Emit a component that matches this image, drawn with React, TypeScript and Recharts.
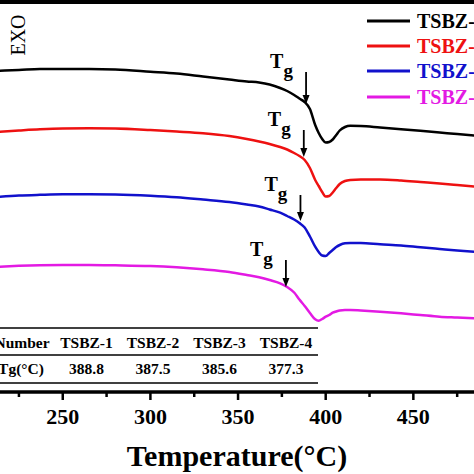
import React from 'react';
import { LineChart, Line, XAxis, YAxis, Legend, ReferenceLine, Label } from 'recharts';

const FONT = '"Liberation Serif", "Times New Roman", serif';

const SAMPLES = ['TSBZ-1', 'TSBZ-2', 'TSBZ-3', 'TSBZ-4'];
const COLORS = ['#000000', '#ee1111', '#1111cc', '#e31ae3'];
const TG_VALUES = [388.8, 387.5, 385.6, 377.3];

// temperature (°C)
const TEMPS = [214, 225, 237, 250, 265, 280, 300, 315, 330, 345, 355, 362, 368, 374, 378, 382, 385, 388, 391, 394, 396, 398, 400, 402, 404, 406, 408, 411, 414, 420, 431, 443, 454, 465, 475, 485];

// heat flow, stacked (a.u.)
const TSBZ1 = [32.13, 32.2, 32.3, 32.3, 32.3, 32.25, 32.03, 31.85, 31.55, 31.25, 31.05, 30.95, 30.75, 30.4, 30.1, 29.7, 29.35, 29.0, 28.3, 26.7, 25.9, 25.3, 24.95, 25.0, 25.25, 25.7, 26.15, 26.5, 26.62, 26.6, 26.45, 26.28, 26.12, 25.95, 25.8, 25.65];
const TSBZ2 = [26.03, 26.15, 26.27, 26.35, 26.37, 26.35, 26.2, 26.05, 25.88, 25.6, 25.3, 25.05, 24.8, 24.5, 24.25, 23.9, 23.6, 23.2, 22.4, 21.2, 20.6, 20.0, 19.55, 19.6, 19.95, 20.4, 20.8, 21.1, 21.2, 21.25, 21.25, 21.15, 21.0, 20.85, 20.7, 20.55];
const TSBZ3 = [19.53, 19.65, 19.72, 19.77, 19.77, 19.75, 19.63, 19.48, 19.25, 19.0, 18.75, 18.55, 18.25, 17.93, 17.6, 17.25, 16.9, 16.45, 15.55, 14.53, 14.0, 13.65, 13.6, 13.9, 14.2, 14.5, 14.7, 14.87, 14.9, 14.9, 14.77, 14.65, 14.47, 14.3, 14.15, 14.03];
const TSBZ4 = [12.53, 12.62, 12.68, 12.7, 12.7, 12.67, 12.6, 12.47, 12.27, 12.0, 11.7, 11.47, 11.2, 10.87, 10.5, 9.95, 9.25, 8.6, 7.9, 7.27, 7.13, 7.3, 7.53, 7.7, 7.93, 8.05, 8.15, 8.2, 8.2, 8.15, 8.03, 7.87, 7.7, 7.53, 7.45, 7.37];

// Tg arrows (heat flow at arrow top / tip)
const ARROW_TOP = [32.0, 26.2, 19.7, 13.2];
const ARROW_TIP = [28.8, 23.5, 17.1, 10.5];

const X_TICKS = [225, 250, 275, 300, 325, 350, 375, 400, 425, 450, 475];
const MAJOR_TICKS = [250, 300, 350, 400, 450];
const Y_MAX = 39;

const data = TEMPS.map((t, i) => ({ t, s1: TSBZ1[i], s2: TSBZ2[i], s3: TSBZ3[i], s4: TSBZ4[i] }));
const SERIES = SAMPLES.map((name, i) => ({ key: `s${i + 1}`, name, color: COLORS[i] }));

const AxisTick = ({ x, y, payload }: any) => {
  const major = MAJOR_TICKS.includes(payload.value);
  return (
    <g>
      <line x1={x} x2={x} y1={y} y2={y + (major ? 8 : 5)} stroke="#000" strokeWidth={2.5} />
      {major && (
        <text x={x} y={y + 32} textAnchor="middle" fontFamily={FONT} fontSize={22} fontWeight="bold" fill="#000">
          {payload.value}
        </text>
      )}
    </g>
  );
};

const TgArrow = (props: any) => {
  const { x1, y1, y2 } = props;
  const top = Math.min(y1, y2);
  const tip = Math.max(y1, y2);
  return (
    <g>
      <line x1={x1} x2={x1} y1={top} y2={tip - 6} stroke="#000" strokeWidth={1.8} />
      <polygon points={`${x1 - 3.5},${tip - 9} ${x1 + 3.5},${tip - 9} ${x1},${tip}`} fill="#000" />
      <text x={x1 - 36} y={top - 4} fontFamily={FONT} fontSize={20} fontWeight="bold" fill="#000">
        T<tspan dy={9} fontSize={19}>g</tspan>
      </text>
    </g>
  );
};

const LegendBox = ({ payload }: any) => (
  <div>
    {(payload || []).map((e: any) => (
      <div key={e.value} style={{ display: 'flex', alignItems: 'center', height: 25.3, whiteSpace: 'nowrap' }}>
        <svg width={43} height={6}>
          <line x1={0} x2={43} y1={3} y2={3} stroke={e.color} strokeWidth={3} />
        </svg>
        <span style={{ marginLeft: 7, color: e.color, fontFamily: FONT, fontWeight: 'bold', fontSize: 20, lineHeight: '20px' }}>
          {e.value}
        </span>
      </div>
    ))}
  </div>
);

const TABLE_COLS = [86.5, 153, 219.5, 286];

export default function App() {
  return (
    <div style={{ position: 'absolute', left: 0, top: 0, width: 474, height: 474, overflow: 'hidden', background: '#fff' }}>
      <LineChart width={474} height={474} data={data} margin={{ top: 2, right: 0, left: 0, bottom: 0 }}>
        <XAxis
          dataKey="t"
          type="number"
          domain={[214.2, 484.6]}
          allowDataOverflow
          ticks={X_TICKS}
          interval={0}
          height={82}
          tickSize={0}
          tickMargin={0}
          tickLine={false}
          axisLine={{ stroke: '#000', strokeWidth: 3.5 }}
          tick={<AxisTick />}
        >
          <Label
            value="Temperature(°C)"
            position="insideBottom"
            offset={8}
            fontFamily={FONT}
            fontSize={30}
            fontWeight="bold"
            fill="#000"
          />
        </XAxis>
        <YAxis type="number" domain={[0, Y_MAX]} hide allowDataOverflow />
        <ReferenceLine y={Y_MAX} stroke="#000" strokeWidth={4} />
        {SERIES.map((s) => (
          <Line
            key={s.key}
            dataKey={s.key}
            name={s.name}
            type="monotone"
            stroke={s.color}
            strokeWidth={2.5}
            dot={false}
            isAnimationActive={false}
          />
        ))}
        {TG_VALUES.map((tg, i) => (
          <ReferenceLine
            key={`tg-${i}`}
            segment={[{ x: tg, y: ARROW_TOP[i] }, { x: tg, y: ARROW_TIP[i] }]}
            shape={<TgArrow />}
          />
        ))}
        <Legend
          layout="vertical"
          align="center"
          verticalAlign="middle"
          wrapperStyle={{ top: 8, left: 367, width: 140 }}
          content={<LegendBox />}
        />
      </LineChart>
      <svg width={474} height={474} style={{ position: 'absolute', left: 0, top: 0, pointerEvents: 'none' }}>
        <text x={25} y={35} transform="rotate(-90 25 35)" textAnchor="middle" fontFamily={FONT} fontSize={20} fill="#000">
          EXO
        </text>
        <line x1={0} x2={318} y1={328} y2={328} stroke="#000" strokeWidth={1.6} />
        <line x1={0} x2={318} y1={355} y2={355} stroke="#000" strokeWidth={1.3} />
        <line x1={0} x2={318} y1={383} y2={383} stroke="#000" strokeWidth={1.6} />
        <g fontFamily={FONT} fontSize={15.5} fontWeight="bold" fill="#000" textAnchor="middle">
          <text x={22} y={348}>Number</text>
          <text x={21} y={374}>Tg(°C)</text>
          {SAMPLES.map((s, i) => (
            <text key={s} x={TABLE_COLS[i]} y={348}>{s}</text>
          ))}
          {TG_VALUES.map((v, i) => (
            <text key={`v-${i}`} x={TABLE_COLS[i]} y={374}>{v.toFixed(1)}</text>
          ))}
        </g>
      </svg>
    </div>
  );
}
